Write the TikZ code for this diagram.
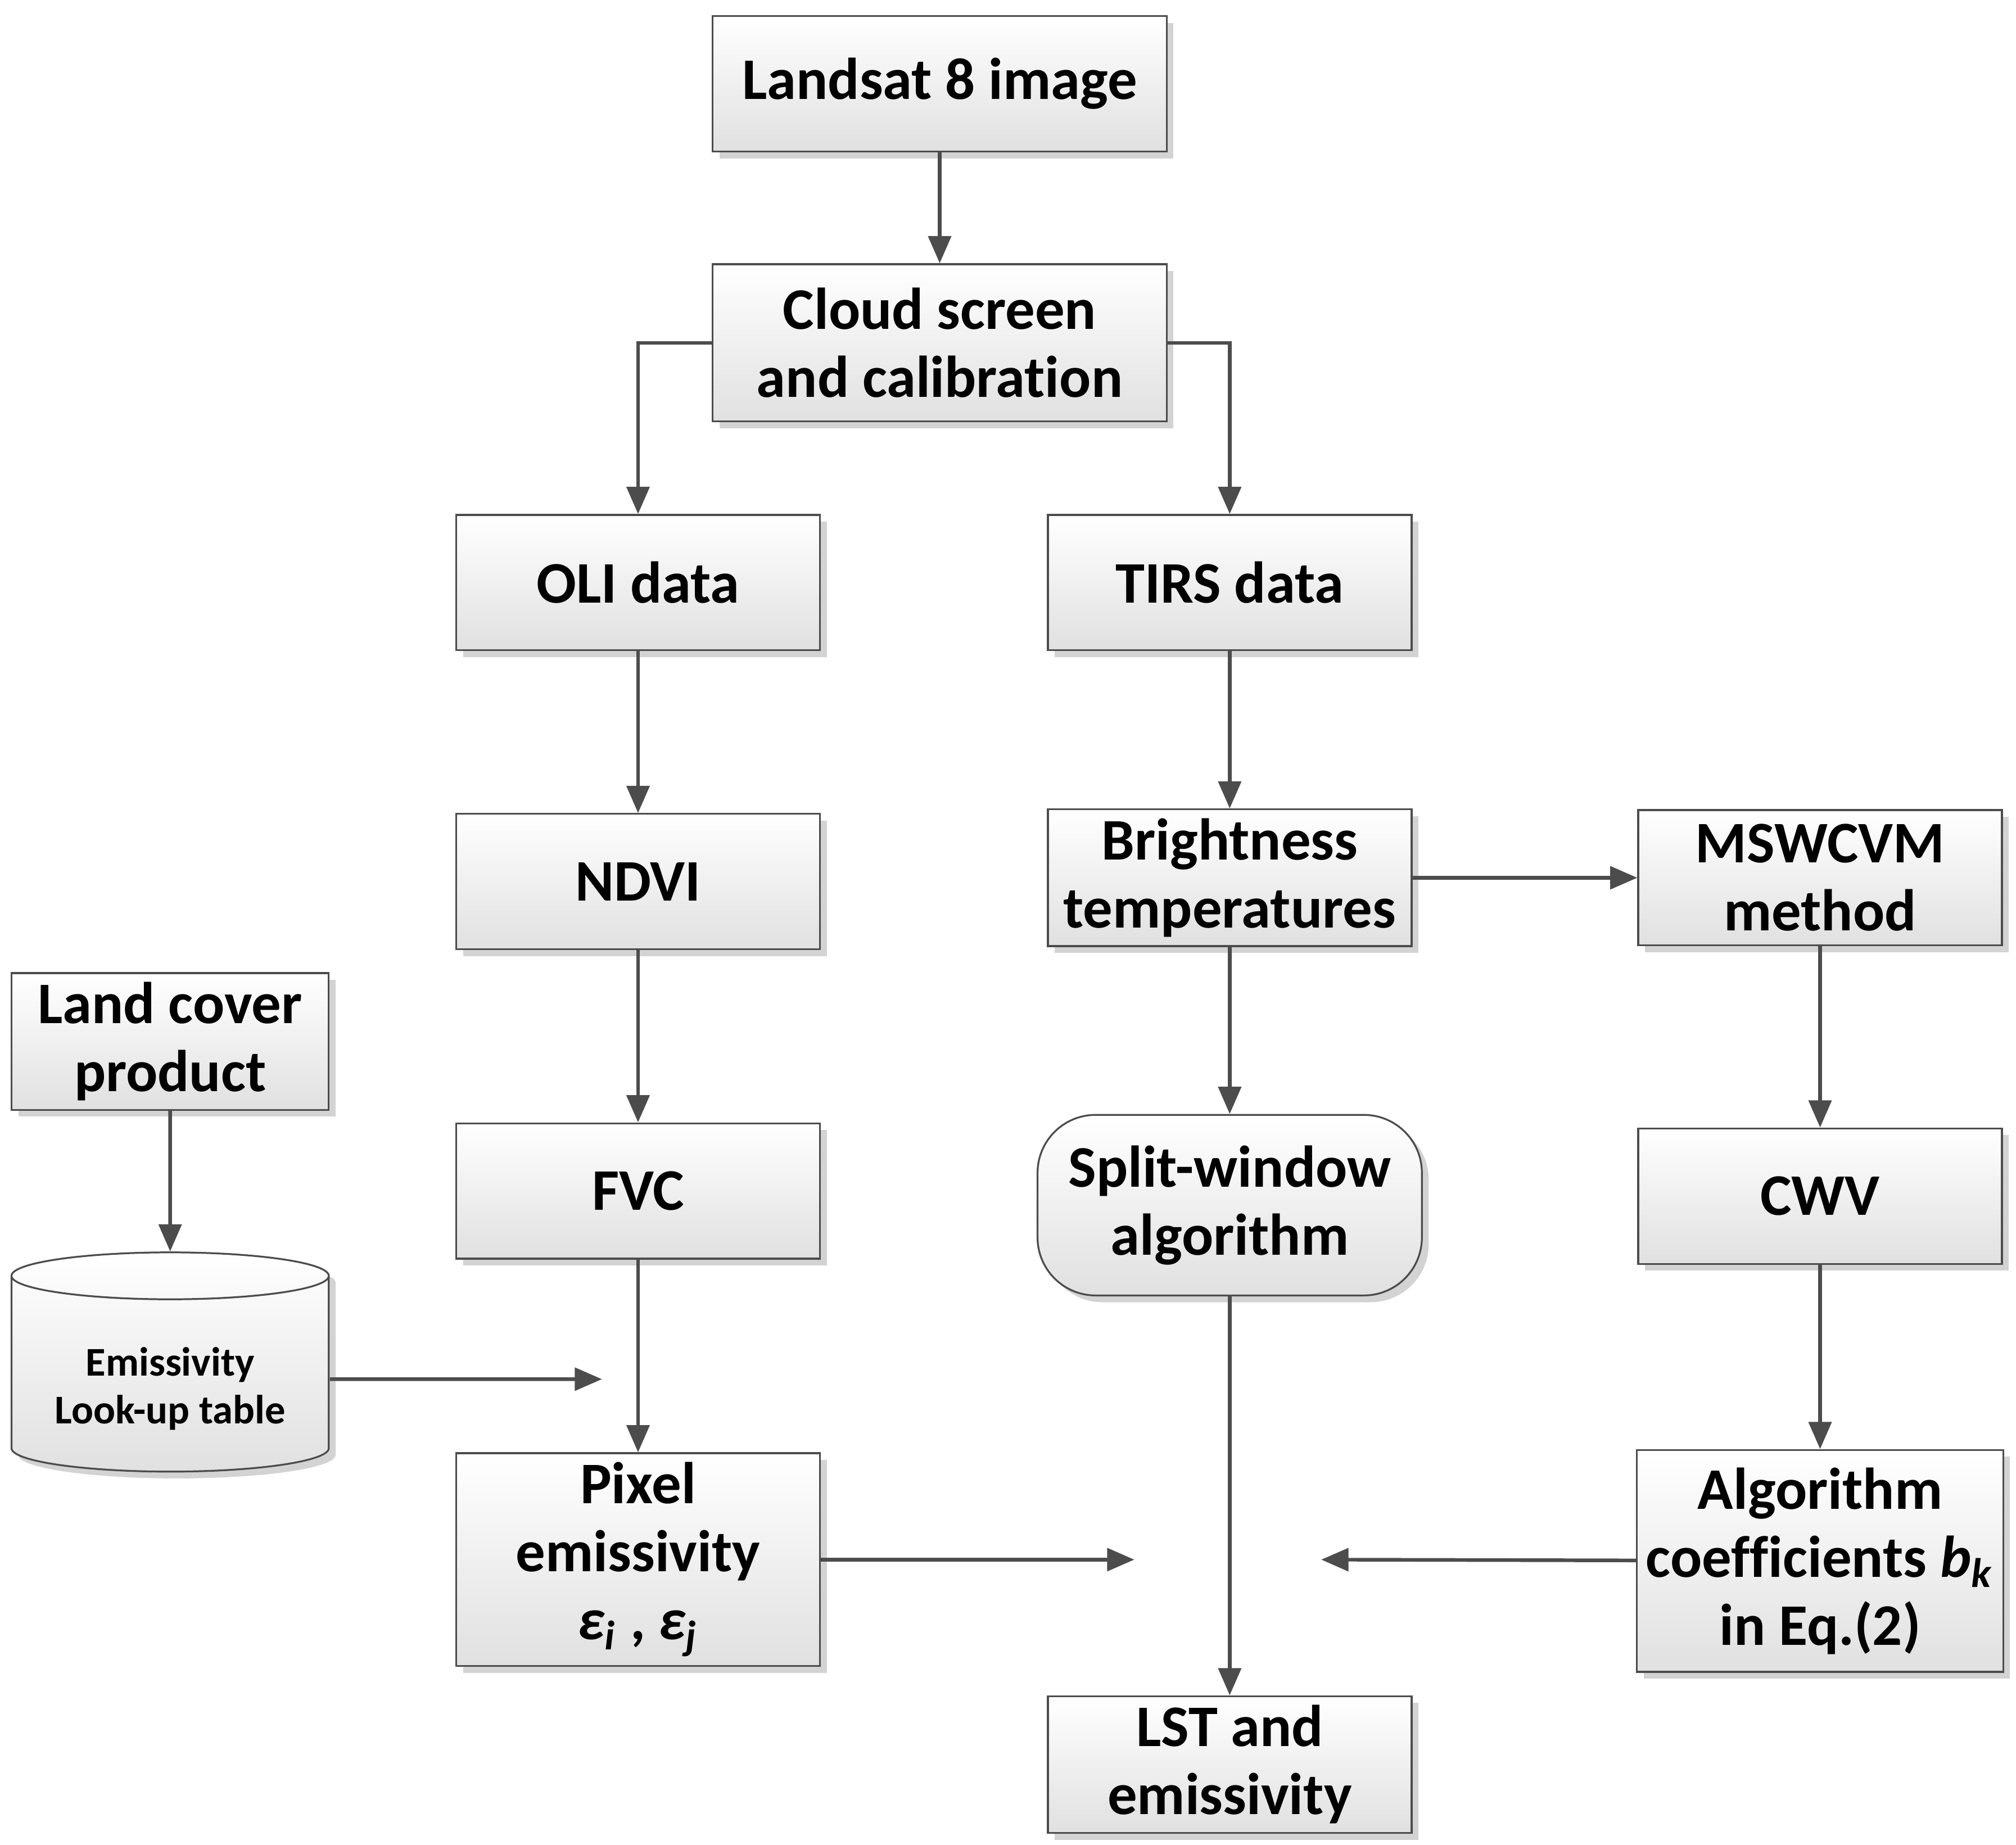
\documentclass[tikz,border=0pt]{standalone}
\usepackage{fontspec}
\setmainfont{Carlito}[RawFeature={-liga;-dlig;-clig}]
\usetikzlibrary{shapes.geometric,shadows,arrows.meta}

\tikzset{
    procbox/.style={draw=black!70, top color=white, bottom color=black!12,
        drop shadow={shadow xshift=1.5pt, shadow yshift=-1.5pt, opacity=0.35},
        minimum width=2.82cm, minimum height=1.05cm, align=center, inner sep=2pt,
        font=\fontsize{13}{15}\selectfont\bfseries},
    algo/.style={procbox, rounded corners=0.45cm, minimum width=2.98cm, minimum height=1.4cm},
    store/.style={cylinder, shape border rotate=90, aspect=0.18, draw=black!70,
        top color=white, bottom color=black!12, minimum width=2.46cm, minimum height=1.7cm,
        align=center, font=\fontsize{9}{10.5}\selectfont\bfseries,
        drop shadow={shadow xshift=1.5pt, shadow yshift=-1.5pt, opacity=0.35}},
    flow/.style={draw=black!70, thick, -{Triangle[length=6pt,width=5pt]}}
}

\begin{document}
\begin{tikzpicture}[x=0.01cm, y=-0.01cm]
    \useasboundingbox (0,0) rectangle (1564,1431);

    \node[procbox, minimum width=3.52cm] (landsat) at (729,65) {Landsat 8 image};
    \node[procbox, minimum width=3.52cm, minimum height=1.22cm] (cloud) at (729,266) {Cloud screen\\and calibration};
    \node[procbox] (oli) at (495,452) {OLI data};
    \node[procbox] (tirs) at (954,452) {TIRS data};
    \node[procbox] (ndvi) at (495,684) {NDVI};
    \node[procbox] (bright) at (954,681) {Brightness\\temperatures};
    \node[procbox] (mswcvm) at (1412,681) {MSWCVM\\method};
    \node[procbox, minimum width=2.46cm] (landcover) at (132,808) {Land cover\\product};
    \node[procbox] (fvc) at (495,924) {FVC};
    \node[algo] (split) at (954,935) {Split-window\\algorithm};
    \node[procbox] (cwv) at (1412,928) {CWV};
    \node[store] (lut) at (132,1070) {\\Emissivity\\Look-up table};
    \node[procbox, minimum height=1.65cm] (pixel) at (495,1210) {Pixel\\emissivity\\\textit{ε\textsubscript{i}} , \textit{ε\textsubscript{j}}};
    \node[procbox, minimum height=1.72cm] (coef) at (1412,1211) {Algorithm\\coefficients \textit{b}\textsubscript{\textit{k}}\\in Eq.(2)};
    \node[procbox] (lst) at (954,1369) {LST and\\emissivity};

    % free ends of the merging arrows
    \coordinate (lutend) at (467,1070);
    \coordinate (pixend) at (880,1210);
    \coordinate (coefend) at (1025,1210);

    \draw[flow] (landsat) -- (cloud);
    \draw[flow] (cloud.west) -| (oli.north);
    \draw[flow] (cloud.east) -| (tirs.north);
    \draw[flow] (oli) -- (ndvi);
    \draw[flow] (ndvi) -- (fvc);
    \draw[flow] (fvc) -- (pixel);
    \draw[flow] (tirs) -- (bright);
    \draw[flow] (bright) -- (mswcvm);
    \draw[flow] (bright) -- (split);
    \draw[flow] (mswcvm) -- (cwv);
    \draw[flow] (cwv) -- (coef);
    \draw[flow] (landcover) -- (lut);
    \draw[flow] (lut) -- (lutend);
    \draw[flow] (pixel) -- (pixend);
    \draw[flow] (coef) -- (coefend);
    \draw[flow] (split) -- (lst);
\end{tikzpicture}
\end{document}
